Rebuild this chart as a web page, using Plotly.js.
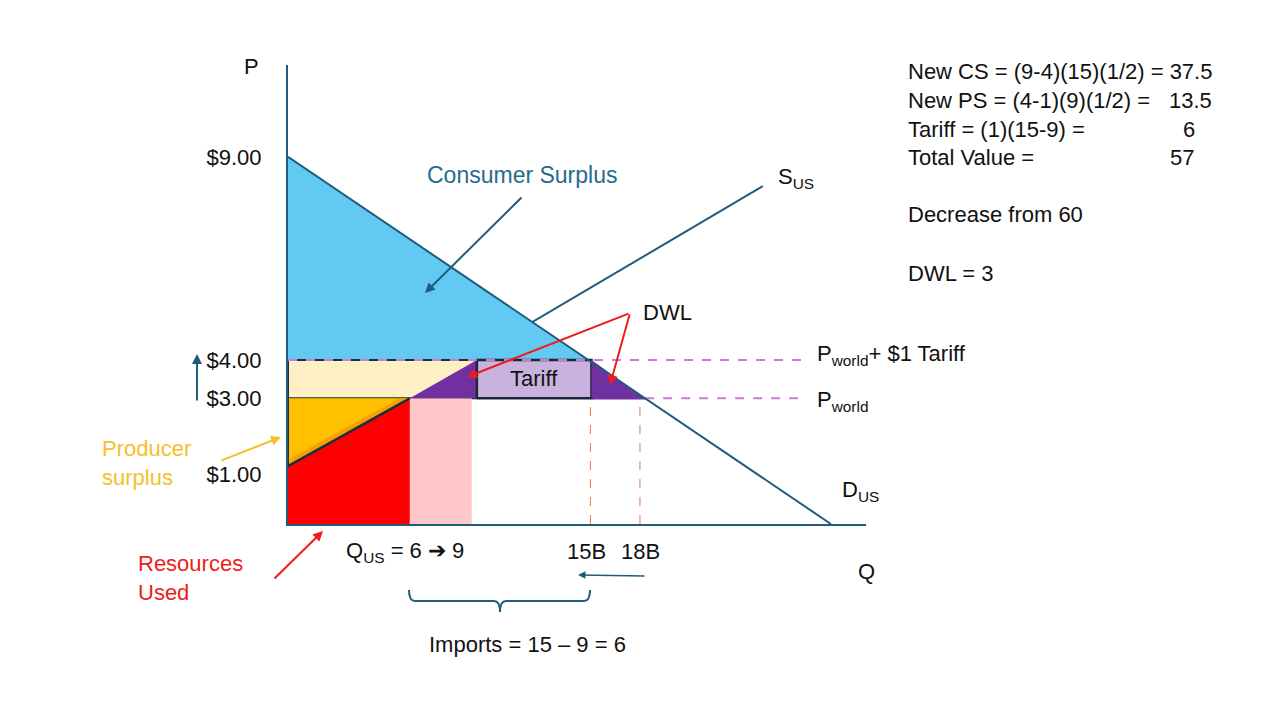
<!DOCTYPE html>
<html>
<head>
<meta charset="utf-8">
<script src="https://cdn.plot.ly/plotly-3.0.1.min.js"></script>
<style>html,body{margin:0;padding:0;background:#fff;}#chart{width:1280px;height:720px;}</style>
</head>
<body>
<div id="chart"></div>
<script>
// ---- data (diagram units) ----
const demandQ = [0, 26.3];
const demandP = [9.0, 0];
const supplyQ = [0, 23.0];
const supplyP = [1.42, 8.28];
const priceTicks = [9.0, 4.02, 3.08, 1.22];
const priceLabels = ["$9.00", "$4.00", "$3.00", "$1.00"];
const priceLevels = [4.02, 3.08];          // P world + tariff, P world
const quantityLevels = [5.9, 9.15, 14.7];  // Q domestic before, after, Q demanded after
const dottedQ = [14.65, 17.05];            // 15B, 18B guide lines
const worldLineEnd = [24.95, 25.05];

const FONT = "Liberation Sans, Arial, sans-serif";
const NAVY = "#1f5c7c";
const W = 1280, H = 720, L = 288, R = 866, T = 65, B = 524;
function px(x){ return (x - L) / (R - L); }
function py(y){ return (B - y) / (B - T); }

function demandAt(p){ // quantity on demand line for price p
  return demandQ[0] + (demandQ[1]-demandQ[0]) * (p - demandP[0]) / (demandP[1]-demandP[0]);
}
const pT = priceLevels[0], pW = priceLevels[1];
const q1 = quantityLevels[0], q2 = quantityLevels[1], q3 = quantityLevels[2];

function poly(xs, ys, fill, lineColor, lineW){
  return {x: xs, y: ys, type:'scatter', mode:'lines', fill:'toself', fillcolor: fill,
    line:{color: lineColor || fill, width: lineW === undefined ? 0 : lineW}, hoverinfo:'skip', showlegend:false};
}
function line(xs, ys, color, width, dash){
  return {x: xs, y: ys, type:'scatter', mode:'lines', line:{color, width, dash: dash || 'solid'},
    hoverinfo:'skip', showlegend:false};
}

const traces = [
  line(supplyQ, supplyP, NAVY, 2),
  // consumer surplus
  poly([0, 0, demandAt(pT), 0], [demandP[0], pT, pT, demandP[0]], '#62c9f2'),
  // light yellow rectangle
  poly([0, q2, q2, 0, 0], [pW, pW, pT, pT, pW], '#ffefc4', '#1b2f40', 2),
  // producer surplus
  poly([0, q1, 0, 0], [pW, pW, supplyP[0], pW], '#ffc000'),
  poly([0.15, q1-0.5, q1, 0, 0.15], [1.62, pW, pW, supplyP[0], 1.62], '#f7a000'),
  // resources used
  poly([0, 0, q1, q1, 0], [supplyP[0], 0, 0, pW, supplyP[0]], '#ff0000', '#ff0000', 1),
  poly([q1, q2-0.25, q2-0.25, q1, q1], [0, 0, pW, pW, 0], '#ffc7c7'),
  // DWL left
  poly([q1, q2, q2, q1], [pW, pT, pW, pW], '#7030a0'),
  // tariff box
  poly([q2, q3, q3, q2, q2], [pW, pW, pT, pT, pW], '#c9b3de', '#16283a', 2.5),
  // DWL right
  poly([q3, q3, demandAt(pW-0.03), q3], [pT, pW-0.03, pW-0.03, pT], '#7030a0'),
  // dashed world price lines
  line([0, worldLineEnd[0]], [pT, pT], '#c77fcf', 2, 'dash'),
  line([demandAt(pW), worldLineEnd[1]], [pW, pW], '#c77fcf', 2, 'dash'),
  // dotted guides
  line([dottedQ[0], dottedQ[0]], [0, pW], '#e8784a', 1, 'dash'),
  line([dottedQ[1], dottedQ[1]], [0, pW], '#e8784a', 1, 'dash'),
  // demand
  line(demandQ, demandP, NAVY, 2),
  // PS triangle outline
  line([0, q1], [supplyP[0], pW], '#1b2f40', 2.5),
  line([0, 0], [supplyP[0], pW], '#1b2f40', 2),
];

function txt(x, y, text, opts){
  return Object.assign({xref:'paper', yref:'paper', x: px(x), y: py(y), text, showarrow:false,
    xanchor:'center', yanchor:'middle', font:{family:FONT, size:22, color:'#111'}}, opts || {});
}
function arrow(hx, hy, tx, ty, color, width){
  return {xref:'paper', yref:'paper', x: px(hx), y: py(hy), ax: tx - hx, ay: ty - hy, text:'',
    showarrow:true, arrowhead:2, arrowsize:1, arrowwidth: width || 2, arrowcolor: color};
}
const GOLD = '#f5c02c', RED = '#ee1c1c';

const annotations = [
  txt(251, 67, 'P'),
  txt(100, 448, 'Producer', {xanchor:'left', font:{family:FONT, size:22, color:GOLD}}),
  txt(100, 477, 'surplus', {xanchor:'left', font:{family:FONT, size:22, color:GOLD}}),
  arrow(281, 437, 220, 461, GOLD, 2),
  arrow(197, 354, 197, 402, NAVY, 2),
  txt(522, 175, 'Consumer Surplus', {font:{family:FONT, size:23, color:'#266b8c'}}),
  arrow(425, 293, 523, 196, NAVY, 2),
  txt(776, 178, 'S<sub>US</sub>', {xanchor:'left'}),
  txt(641, 312, 'DWL', {xanchor:'left'}),
  arrow(467, 377, 630, 313, RED, 2),
  arrow(610, 385, 630, 313, RED, 2),
  txt(534, 378, 'Tariff', {font:{family:FONT, size:22, color:'#111'}}),
  txt(815, 355, 'P<sub>world</sub>+ $1 Tariff', {xanchor:'left'}),
  txt(815, 401, 'P<sub>world</sub>', {xanchor:'left'}),
  txt(840, 491, 'D<sub>US</sub>', {xanchor:'left'}),
  txt(866, 571, 'Q'),
  txt(136, 563, 'Resources', {xanchor:'left', font:{family:FONT, size:22, color:RED}}),
  txt(136, 592, 'Used', {xanchor:'left', font:{family:FONT, size:22, color:RED}}),
  arrow(323, 531, 273, 580, RED, 2),
  txt(344, 552, 'Q<sub>US</sub> = 6 \u2794 9', {xanchor:'left'}),
  txt(586, 551, '15B'),
  txt(640, 551, '18B'),
  arrow(578, 575, 646, 576, NAVY, 1.5),
  txt(527, 644, 'Imports = 15 \u2013 9 = 6'),
  txt(906, 72, 'New CS = (9-4)(15)(1/2) = 37.5', {xanchor:'left'}),
  txt(906, 100, 'New PS = (4-1)(9)(1/2) =', {xanchor:'left'}),
  txt(1214, 100, '13.5', {xanchor:'right'}),
  txt(906, 129, 'Tariff = (1)(15-9) =', {xanchor:'left'}),
  txt(1197, 129, '6', {xanchor:'right'}),
  txt(906, 158, 'Total Value =', {xanchor:'left'}),
  txt(1196, 158, '57', {xanchor:'right'}),
  txt(906, 215, 'Decrease from 60', {xanchor:'left'}),
  txt(906, 273, 'DWL = 3', {xanchor:'left'}),
];

const brace = 'M ' + px(409) + ',' + py(590) + ' Q ' + px(409) + ',' + py(601) + ' ' + px(415) + ',' + py(601) +
  ' L ' + px(494) + ',' + py(601) + ' Q ' + px(500) + ',' + py(601) + ' ' + px(500) + ',' + py(612) +
  ' Q ' + px(500) + ',' + py(601) + ' ' + px(506) + ',' + py(601) +
  ' L ' + px(584) + ',' + py(601) + ' Q ' + px(590) + ',' + py(601) + ' ' + px(590) + ',' + py(590);

const layout = {
  width: W, height: H,
  margin: {l: L, r: W - R, t: T, b: H - B, pad: 0},
  paper_bgcolor: '#ffffff', plot_bgcolor: '#ffffff',
  showlegend: false,
  xaxis: {range: [0, 28], showgrid: false, zeroline: false, showline: true, linecolor: NAVY, linewidth: 2,
    showticklabels: false, ticks: '', fixedrange: true},
  yaxis: {range: [0, 11.25], showgrid: false, zeroline: false, showline: true, linecolor: NAVY, linewidth: 2,
    tickvals: priceTicks, ticktext: priceLabels, ticks: '', ticklabelstandoff: 20,
    tickfont: {family: FONT, size: 22, color: '#111'}, fixedrange: true},
  annotations,
  shapes: [{type: 'path', xref: 'paper', yref: 'paper', path: brace, line: {color: NAVY, width: 2}}],
};

Plotly.newPlot('chart', traces, layout, {displayModeBar: false, staticPlot: true});
</script>
</body>
</html>
